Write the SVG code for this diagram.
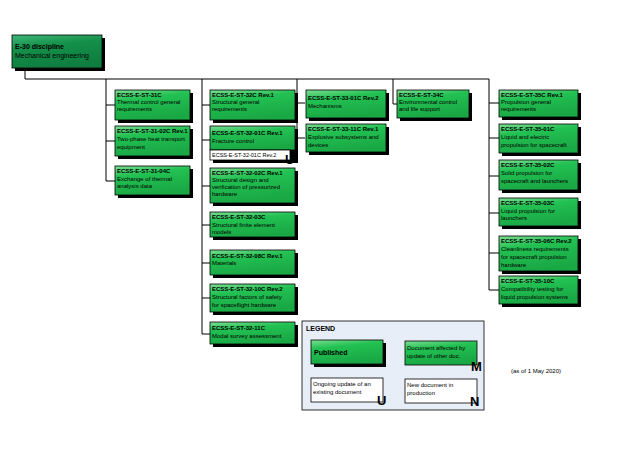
<svg xmlns="http://www.w3.org/2000/svg" width="638" height="452" viewBox="0 0 638 452">
<defs>
<linearGradient id="g" x1="0" y1="0" x2="0.3" y2="1"><stop offset="0" stop-color="#7ede95"/><stop offset="0.35" stop-color="#22c152"/><stop offset="1" stop-color="#1aa845"/></linearGradient>
<linearGradient id="g2" x1="0" y1="0" x2="0.3" y2="1"><stop offset="0" stop-color="#3fb878"/><stop offset="0.4" stop-color="#14904a"/><stop offset="1" stop-color="#0f7e40"/></linearGradient>
</defs>
<style>
.b{fill:url(#g);stroke:#000;stroke-width:0.8}
.s{fill:#000}
.w{fill:#fff;stroke:#000;stroke-width:0.8}
text{font-family:"Liberation Sans",Arial,sans-serif;font-size:6px;fill:#000}
.t{font-weight:bold}
.l{fill:none;stroke:#000;stroke-width:1}
.big{font-size:13px;font-weight:bold}
</style>
<rect width="638" height="452" fill="#fff"/>
<g id="connectors" class="l">
<path d="M25 68V79H489M106 79V181M202 79V334M297 79V138M393 79V104H397M489 79V290"/>
<path d="M106 105H115M106 141H115M106 181H115"/>
<path d="M202 105H210M202 140H210M202 186H210M202 225H210M202 263H210M202 298H210M202 334H210"/>
<path d="M297 103H305M297 138H305"/>
<path d="M489 103H499M489 138H499M489 176H499M489 213H499M489 253H499M489 290H499"/>
</g>
<g id="root"><rect x="15" y="38" width="90" height="33" class="s"/><rect x="12" y="35" width="90" height="33" fill="url(#g2)" stroke="#000" stroke-width="0.8"/><text x="15" y="49" class="t" style="font-size:7px">E-30 discipline</text><text x="15" y="58" style="font-size:7px">Mechanical engineering</text></g>
<g id="n31"><rect x="118" y="93" width="75" height="30" class="s"/><rect x="115" y="90" width="75" height="30" class="b"/><text x="117" y="97" class="t">ECSS-E-ST-31C</text><text x="117" y="104">Thermal control general</text><text x="117" y="111">requirements</text></g>
<g id="n3102"><rect x="118" y="129" width="75" height="30" class="s"/><rect x="115" y="126" width="75" height="30" class="b"/><text x="117" y="133" class="t">ECSS-E-ST-31-02C Rev.1</text><text x="117" y="141">Two-phase heat transport</text><text x="117" y="149">equipment</text></g>
<g id="n3104"><rect x="118" y="169" width="75" height="29" class="s"/><rect x="115" y="166" width="75" height="29" class="b"/><text x="117" y="173" class="t">ECSS-E-ST-31-04C</text><text x="117" y="181">Exchange of thermal</text><text x="117" y="188">analysis data</text></g>
<g id="n32"><rect x="213" y="93" width="85" height="30" class="s"/><rect x="210" y="90" width="85" height="30" class="b"/><text x="212" y="97" class="t">ECSS-E-ST-32C Rev.1</text><text x="212" y="104">Structural general</text><text x="212" y="111">requirements</text></g>
<g id="n3201"><rect x="213" y="129" width="85" height="34" class="s"/><rect x="210" y="126" width="85" height="24" class="b"/><rect x="210" y="150" width="80" height="10" class="w"/><text x="212" y="135" class="t">ECSS-E-ST-32-01C Rev.1</text><text x="212" y="143">Fracture control</text><text x="212" y="157" style="font-size:5.5px">ECSS-E-ST-32-01C Rev.2</text><text x="285" y="164" class="big">U</text></g>
<g id="n3202"><rect x="213" y="171" width="85" height="35" class="s"/><rect x="210" y="168" width="85" height="35" class="b"/><text x="212" y="175" class="t">ECSS-E-ST-32-02C Rev.1</text><text x="212" y="182">Structural design and</text><text x="212" y="189">verification of pressurized</text><text x="212" y="196">hardware</text></g>
<g id="n3203"><rect x="213" y="215" width="85" height="25" class="s"/><rect x="210" y="212" width="85" height="25" class="b"/><text x="212" y="219" class="t">ECSS-E-ST-32-03C</text><text x="212" y="227">Structural finite element</text><text x="212" y="234">models</text></g>
<g id="n3208"><rect x="213" y="253" width="85" height="25" class="s"/><rect x="210" y="250" width="85" height="25" class="b"/><text x="212" y="258" class="t">ECSS-E-ST-32-08C Rev.1</text><text x="212" y="265">Materials</text></g>
<g id="n3210"><rect x="213" y="287" width="85" height="28" class="s"/><rect x="210" y="284" width="85" height="28" class="b"/><text x="212" y="291" class="t">ECSS-E-ST-32-10C Rev.2</text><text x="212" y="299">Structural factors of safety</text><text x="212" y="307">for spaceflight hardware</text></g>
<g id="n3211"><rect x="213" y="325" width="85" height="22" class="s"/><rect x="210" y="322" width="85" height="22" class="b"/><text x="212" y="330" class="t">ECSS-E-ST-32-11C</text><text x="212" y="338">Modal survey assessment</text></g>
<g id="n3301"><rect x="309" y="93" width="80" height="28" class="s"/><rect x="306" y="90" width="80" height="28" class="b"/><text x="308" y="100" class="t">ECSS-E-ST-33-01C Rev.2</text><text x="308" y="108">Mechanisms</text></g>
<g id="n3311"><rect x="309" y="127" width="80" height="28" class="s"/><rect x="306" y="124" width="80" height="28" class="b"/><text x="308" y="131" class="t">ECSS-E-ST-33-11C Rev.1</text><text x="308" y="139">Explosive subsystems and</text><text x="308" y="147">devices</text></g>
<g id="n34"><rect x="400" y="93" width="72" height="28" class="s"/><rect x="397" y="90" width="72" height="28" class="b"/><text x="399" y="97" class="t">ECSS-E-ST-34C</text><text x="399" y="104">Environmental control</text><text x="399" y="111">and life support</text></g>
<g id="n35"><rect x="502" y="93" width="79" height="27" class="s"/><rect x="499" y="90" width="79" height="27" class="b"/><text x="501" y="97" class="t">ECSS-E-ST-35C Rev.1</text><text x="501" y="104">Propulsion general</text><text x="501" y="111">requirements</text></g>
<g id="n3501"><rect x="502" y="127" width="79" height="29" class="s"/><rect x="499" y="124" width="79" height="29" class="b"/><text x="501" y="131" class="t">ECSS-E-ST-35-01C</text><text x="501" y="139">Liquid and electric</text><text x="501" y="147">propulsion for spacecraft</text></g>
<g id="n3502"><rect x="502" y="163" width="79" height="30" class="s"/><rect x="499" y="160" width="79" height="30" class="b"/><text x="501" y="167" class="t">ECSS-E-ST-35-02C</text><text x="501" y="175">Solid propulsion for</text><text x="501" y="183">spacecraft and launchers</text></g>
<g id="n3503"><rect x="502" y="201" width="79" height="28" class="s"/><rect x="499" y="198" width="79" height="28" class="b"/><text x="501" y="205" class="t">ECSS-E-ST-35-03C</text><text x="501" y="213">Liquid propulsion for</text><text x="501" y="220">launchers</text></g>
<g id="n3506"><rect x="502" y="239" width="79" height="35" class="s"/><rect x="499" y="236" width="79" height="35" class="b"/><text x="501" y="243" class="t">ECSS-E-ST-35-06C Rev.2</text><text x="501" y="251">Cleanliness requirements</text><text x="501" y="259">for spacecraft propulsion</text><text x="501" y="267">hardware</text></g>
<g id="n3510"><rect x="502" y="279" width="79" height="28" class="s"/><rect x="499" y="276" width="79" height="28" class="b"/><text x="501" y="283" class="t">ECSS-E-ST-35-10C</text><text x="501" y="291">Compatibility testing for</text><text x="501" y="299">liquid propulsion systems</text></g>
<g id="legend">
<rect x="302" y="321" width="182" height="89" fill="#e8eef7" stroke="#000" stroke-width="0.8"/>
<text x="306" y="331" class="t" style="font-size:7px">LEGEND</text>
<rect x="314" y="343" width="72" height="24" class="s"/><rect x="311" y="340" width="72" height="24" class="b"/><text x="314" y="355" class="t" style="font-size:7px">Published</text>
<rect x="405" y="341" width="72" height="24" class="b"/><text x="407" y="350">Document affected by</text><text x="407" y="358">update of other doc.</text><text x="471" y="371" class="big">M</text>
<rect x="311" y="378" width="72" height="24" class="w"/><text x="313" y="386">Ongoing update of an</text><text x="313" y="394">existing document</text><text x="377" y="405" class="big">U</text>
<rect x="405" y="379" width="72" height="24" class="w"/><text x="407" y="387">New document in</text><text x="407" y="395">production</text><text x="470" y="406" class="big">N</text>
</g>
<text x="511" y="373" style="font-size:6px">(as of 1 May 2020)</text>
</svg>
